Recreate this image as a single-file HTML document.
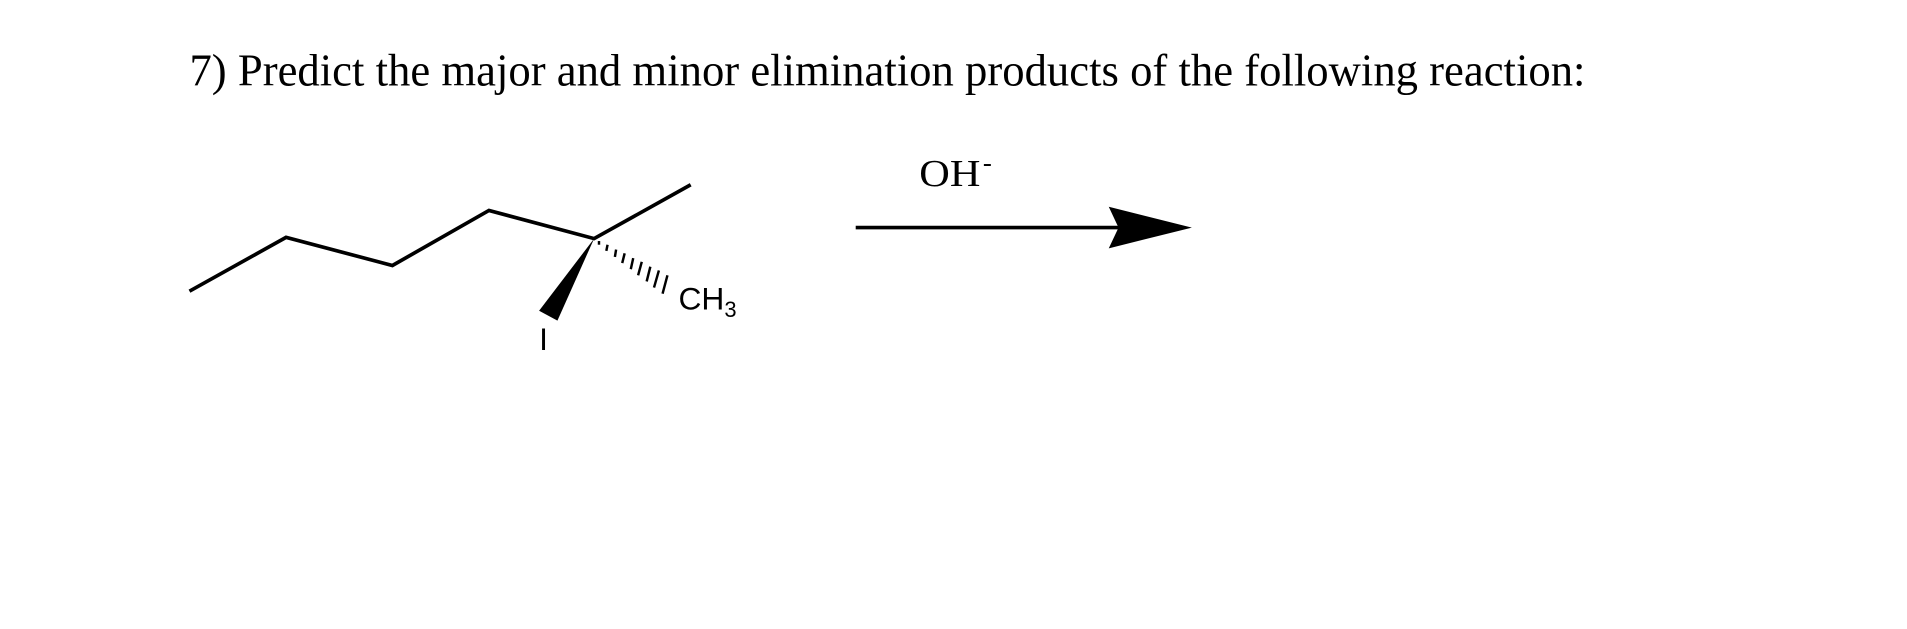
<!DOCTYPE html>
<html><head><style>html,body{margin:0;padding:0;background:#fff;overflow:hidden}</style></head>
<body>
<svg width="1907" height="624" viewBox="0 0 1560 510" preserveAspectRatio="none" xmlns="http://www.w3.org/2000/svg">
<rect width="1560" height="510" fill="#fff"/>
<text x="155" y="70" font-family="Liberation Serif, serif" font-size="37" textLength="1142" lengthAdjust="spacingAndGlyphs" fill="#000">7)  Predict the major and minor elimination products of the following reaction:</text>
<polyline points="155,238 234,194 321,217 400,172 486,195 565,151" fill="none" stroke="#000" stroke-width="3"/>
<polygon points="486,195 441,254 456,262" fill="#000"/>
<g stroke="#000" stroke-width="2">
<line x1="490" y1="197" x2="490" y2="200"/>
<line x1="497" y1="200" x2="496" y2="205"/>
<line x1="504" y1="204" x2="503" y2="210"/>
<line x1="511" y1="207" x2="509" y2="215"/>
<line x1="518" y1="211" x2="516" y2="220"/>
<line x1="525" y1="214" x2="522" y2="225"/>
<line x1="532" y1="218" x2="529" y2="230"/>
<line x1="539" y1="221" x2="535" y2="235"/>
<line x1="546" y1="225" x2="542" y2="240"/>
</g>
<text x="441" y="286" font-family="Liberation Sans, sans-serif" font-size="26" fill="#000">I</text>
<text x="555" y="253" font-family="Liberation Sans, sans-serif" font-size="26" fill="#000">CH<tspan font-size="18" dy="6">3</tspan></text>
<line x1="700" y1="186" x2="920" y2="186" stroke="#000" stroke-width="3"/>
<polygon points="975,186 907,169 915,186 907,203" fill="#000"/>
<text x="752" y="152" font-family="Liberation Serif, serif" font-size="31" textLength="50" lengthAdjust="spacingAndGlyphs" fill="#000">OH</text>
<text x="804" y="140" font-family="Liberation Serif, serif" font-size="22" fill="#000">-</text>
</svg>
</body></html>
